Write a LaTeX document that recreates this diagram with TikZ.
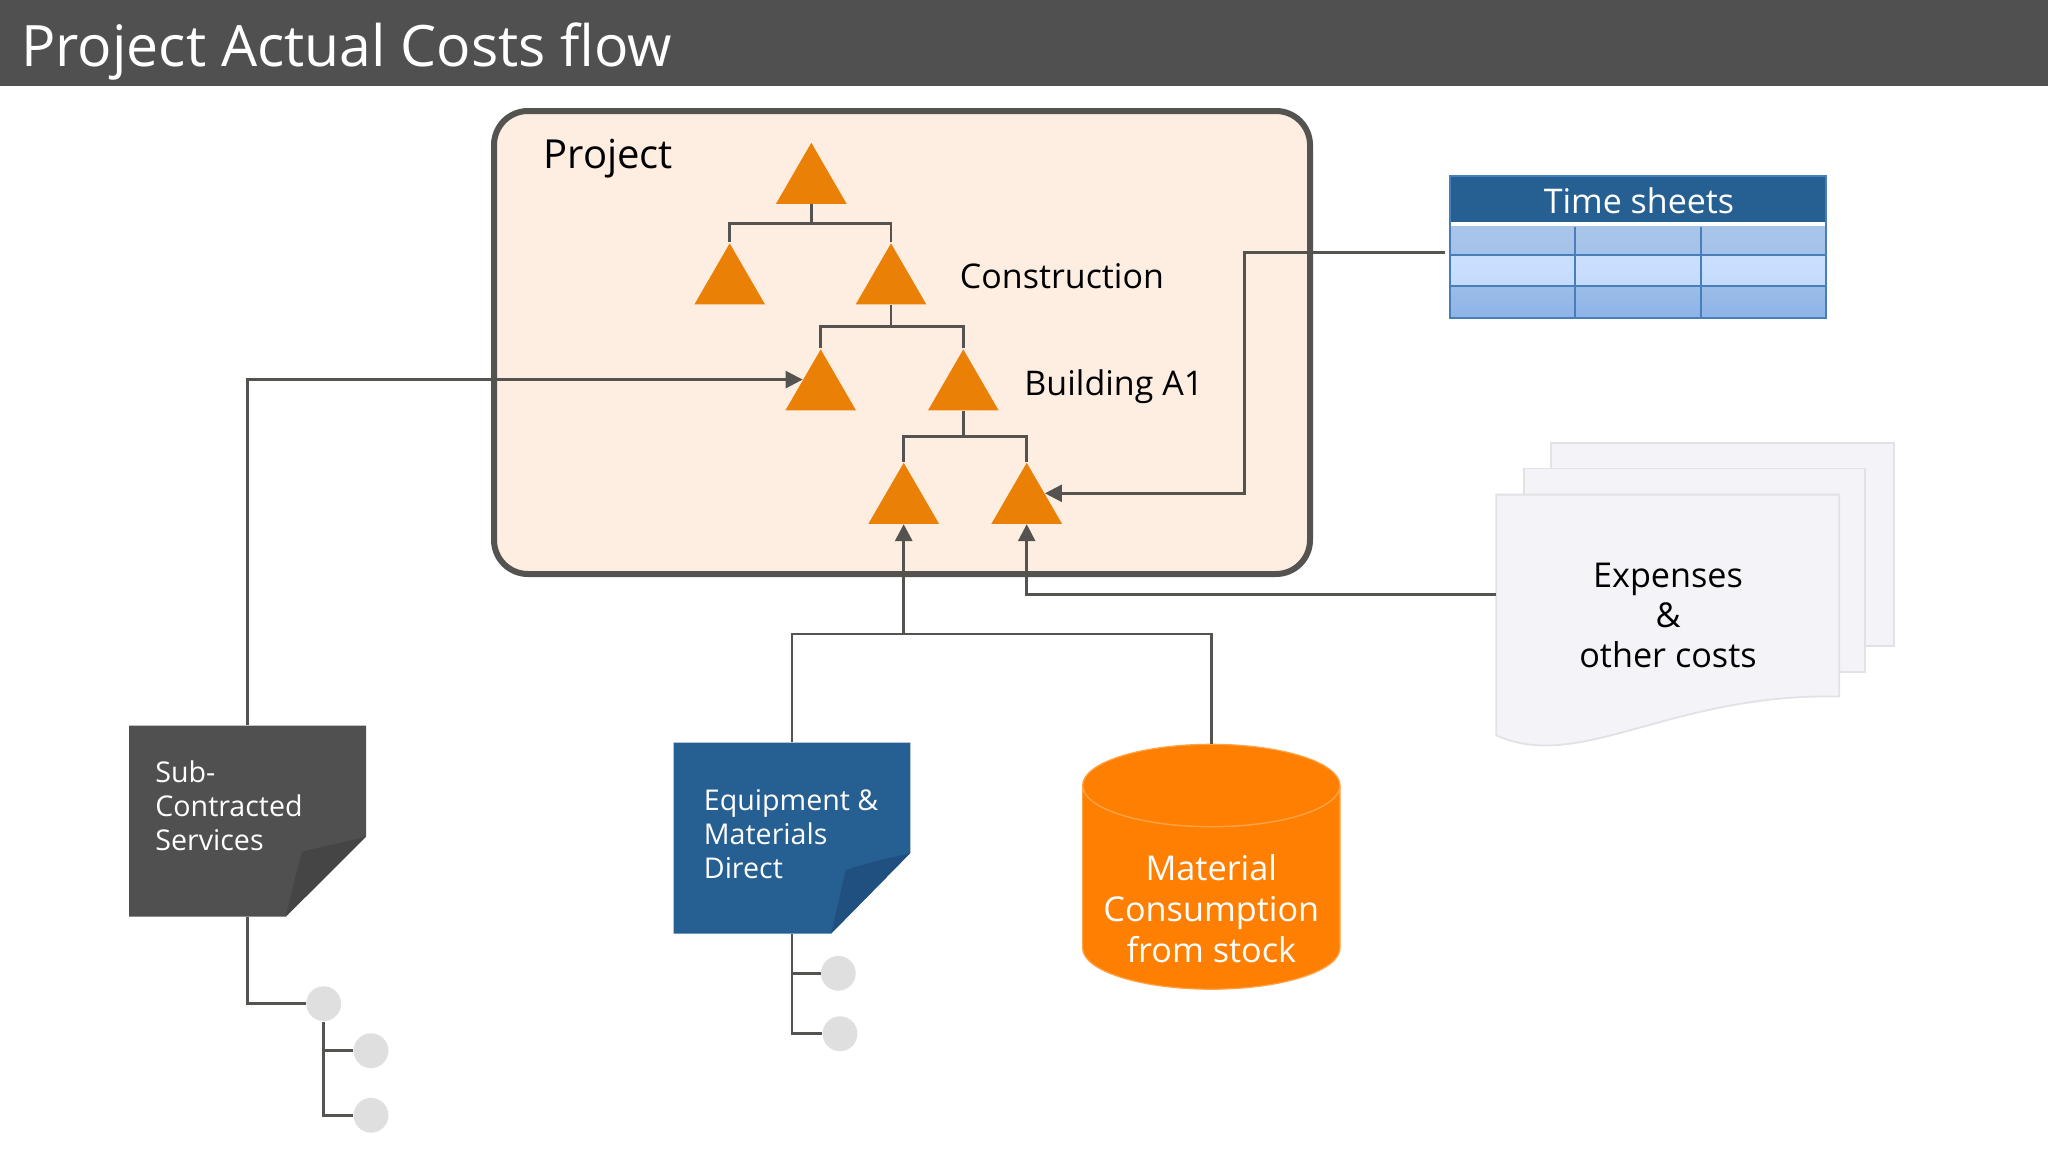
\documentclass[tikz,border=0pt]{standalone}
\usepackage{fontspec}
\setmainfont{Open Sans}
\usetikzlibrary{arrows.meta,shapes.geometric,calc}
\definecolor{linec}{HTML}{555350}
\definecolor{triC}{HTML}{EB8006}
\definecolor{boxC}{HTML}{FEEEE2}
\definecolor{darkC}{HTML}{505050}
\definecolor{darkF}{HTML}{454545}
\definecolor{blueC}{HTML}{265F92}
\definecolor{blueF}{HTML}{1F5080}
\definecolor{orangeC}{HTML}{FF7F02}
\definecolor{orangeL}{HTML}{FFA347}
\definecolor{sheetC}{HTML}{F4F3F7}
\definecolor{sheetL}{HTML}{E3E1E6}
\definecolor{circC}{HTML}{DFDFDF}
\definecolor{tabL}{HTML}{4A7EBB}
\definecolor{rowA}{HTML}{A8C5E9}
\definecolor{rowB}{HTML}{A4C2E8}
\definecolor{rowC}{HTML}{CBE0FF}
\definecolor{rowD}{HTML}{C3DBFC}
\definecolor{rowE}{HTML}{9ABDE8}
\definecolor{rowF}{HTML}{8EB3E8}
\tikzset{
  tri/.style={isosceles triangle,isosceles triangle stretches,shape border rotate=90,
    fill=triC,inner sep=0pt,minimum width=35.3pt,minimum height=30.5pt},
  wire/.style={draw=linec,line width=1.3pt},
  arr/.style={wire,-{Triangle[length=8.5pt,width=8.5pt]}},
  dot/.style={circle,fill=circC,inner sep=0pt,minimum size=17.4pt},
  sheet/.style={fill=sheetC,draw=sheetL,line width=0.9pt},
  lbl/.style={inner sep=0pt,font=\fontsize{17}{20}\selectfont,text=black},
  small/.style={inner sep=0pt,align=left,text=white,font=\fontsize{14.3}{17}\selectfont},
  mid/.style={inner sep=0pt,align=center,font=\fontsize{17.1}{20}\selectfont},
  hit/.style={inner sep=0pt,rectangle},
}
\begin{document}
\begin{tikzpicture}[x=0.5pt,y=-0.5pt]
\useasboundingbox (0,0) rectangle (2048,1152);
\fill[white] (0,0) rectangle (2048,1152);
% header
\fill[darkC] (0,0) rectangle (2048,86);
\node[anchor=base west,inner sep=0pt,text=white,font=\fontsize{28.55}{36}\selectfont] (title) at (21,66) {Project Actual Costs flow};
% project box
\node[hit,draw=linec,line width=3pt,fill=boxC,rounded corners=17pt,minimum width=408pt,minimum height=231.5pt] (proj) at (902,342.5) {};
\node[lbl,anchor=base west,font=\fontsize{20}{24}\selectfont] (projt) at (543,168) {Project};
% triangles
\node[tri] (t0) at (811.3,183.4) {};
\node[tri] (t1) at (729.7,284) {};
\node[tri] (t2) at (891,284) {};
\node[tri] (t3) at (820.7,390) {};
\node[tri] (t4) at (963.3,390) {};
\node[tri] (t5) at (903.7,503.4) {};
\node[tri] (t6) at (1026.7,503.4) {};
\node[lbl,anchor=base west] (constr) at (959.5,288) {Construction};
\node[lbl,anchor=base west] (bldg) at (1024,395.5) {Building A1};
% tree wires
\coordinate (b0) at (811.3,223.3);
\coordinate (b1) at (891,326.7);
\coordinate (b2) at (963.3,436.3);
\draw[wire] (t1.north) |- (b0);
\draw[wire] (t2.north) |- (b0);
\draw[wire] (t0.south) -- (b0);
\draw[wire] (t3.north) |- (b1);
\draw[wire] (t4.north) |- (b1);
\draw[wire] (t2.south) -- (b1);
\draw[wire] (t5.north) |- (b2);
\draw[wire] (t6.north) |- (b2);
\draw[wire] (t4.south) -- (b2);
% time sheets table
\node[hit,minimum width=189pt,minimum height=72pt] (ts) at (1638.2,247) {};
\fill[blueC] (1450,175.6) rectangle (1826.3,221.5);
\fill[top color=rowA,bottom color=rowB] (1450,226.7) rectangle (1826.3,254.7);
\fill[top color=rowC,bottom color=rowD] (1450,254.7) rectangle (1826.3,286);
\fill[top color=rowE,bottom color=rowF] (1450,286) rectangle (1826.3,318);
\draw[tabL,line width=0.9pt] (1450,175.6) rectangle (1826.3,318)
  (1450,254.7) -- (1826.3,254.7) (1450,286) -- (1826.3,286)
  (1575,226.7) -- (1575,318) (1700.7,226.7) -- (1700.7,318);
\node[anchor=base,inner sep=0pt,text=white,font=\fontsize{17}{20}\selectfont] (tst) at (1639,213) {Time sheets};
% expenses sheets
\draw[sheet] (1550.7,443) rectangle (1894.3,645.6);
\draw[sheet] (1524.3,468.4) rectangle (1864.7,671.8);
\draw[sheet] (1496.3,494.6) -- (1839.3,494.6) -- (1839.3,696.5) .. controls (1670,693) and (1580,773) .. (1496.3,735.4) -- cycle;
\node[mid,text=black] (exp) at (1668,615) {Expenses\\\&\\other costs};
\coordinate (expport) at (1496.3,594.5);
\coordinate (tsport) at (1445,252.5);
\coordinate (tsm1) at (1244.6,252.5);
% connectors to project
\draw[arr] (expport) -| (t6.south);
\draw[arr] (tsport) -- (tsm1) |- (t6.29.5);
% sub-contracted
\fill[darkC] (129,725.7) -- (366,725.7) -- (366,836.7) -- (285.7,916.7) -- (129,916.7) -- cycle;
\fill[darkF] (366,836.7) -- (285.7,916.7) .. controls (292,890) and (297,870) .. (301.7,851.7) .. controls (325,846) and (345,842) .. cycle;
\node[hit,minimum width=118.5pt,minimum height=95.5pt] (sub) at (247.5,821.2) {};
\node[small,anchor=west] (subt) at (155,805.5) {Sub-\\Contracted\\Services};
% equipment
\fill[blueC] (673.5,742.7) -- (910.3,742.7) -- (910.3,853) -- (831,933.7) -- (673.5,933.7) -- cycle;
\fill[blueF] (910.3,853) -- (831,933.7) .. controls (838,905) and (842,885) .. (846,870) .. controls (870,862) and (890,858) .. cycle;
\node[hit,minimum width=118.4pt,minimum height=95.5pt] (eq) at (791.9,838.2) {};
\node[small,anchor=west] (eqt) at (703.5,834) {Equipment \&\\Materials\\Direct};
% stock cylinder
\path[fill=orangeC,draw=orangeL,line width=0.6pt] (1082.6,785.5) arc[start angle=180,end angle=360,x radius=128.7,y radius=41.2]
  -- (1340,948) arc[start angle=0,end angle=180,x radius=128.7,y radius=41.2] -- cycle;
\draw[orangeL,line width=0.7pt] (1082.6,785.5) arc[start angle=180,end angle=0,x radius=128.7,y radius=41.2];
\node[hit,minimum width=128.7pt,minimum height=122.5pt] (stock) at (1211.3,866.8) {};
\node[mid,text=white,font=\fontsize{17.1}{20.4}\selectfont] (stockt) at (1211.3,908.5) {Material\\Consumption\\from stock};
% bus
\coordinate (bus) at (903.7,634);
\draw[wire] (eq.north) |- (bus);
\draw[wire] (stock.north) |- (bus);
\draw[arr,line width=1.6pt] (bus) -- (t5.south);
% sub to t3
\draw[arr] (sub.north) |- (t3.150.5);
% dots
\node[dot] (c1) at (323.7,1003.7) {};
\node[dot] (c2) at (371,1050.7) {};
\node[dot] (c3) at (371,1115.3) {};
\node[dot] (e1) at (838.3,973.3) {};
\node[dot] (e2) at (840,1033.7) {};
\draw[wire] (sub.south) |- (c1.west);
\draw[wire] (c1.south) |- (c2.west);
\draw[wire] (c1.south) |- (c3.west);
\draw[wire] (eq.south) |- (e1.west);
\draw[wire] (eq.south) |- (e2.west);
\end{tikzpicture}
\end{document}
